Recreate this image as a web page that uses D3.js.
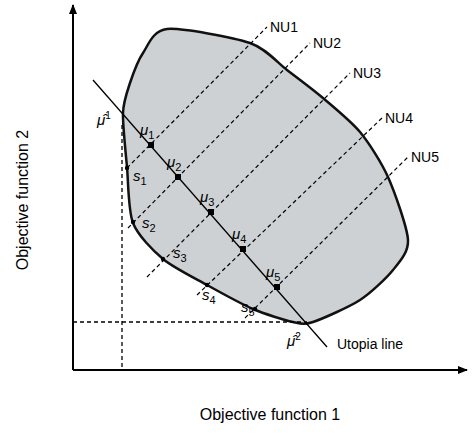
<!DOCTYPE html>
<html><head><meta charset="utf-8">
<script src="https://cdn.jsdelivr.net/npm/d3@7"></script>
<style>body{margin:0;background:#fff}text{font-family:Arial,"Liberation Sans",sans-serif}</style>
</head><body><div class="canvas"></div>
<script>
// objective space values (origin at the axes corner)
const boundary = [[94,341],[177,327],[214,300],[250,272],[287,238],[315,193],[335,130],[320,100],[287,70],[240,48],[220,48],[180,61],[134,85],[90,111],[60,147],[54,203],[50,257],[57,287],[70,317]];
const utopiaLine = [[20,290],[254,23]];
const anchors = [{name:'1', p:[50,257]}, {name:'2', p:[234,48]}];
const muPoints = [[78,225],[105,193],[138,158],[170,121],[204,83]];
const sPoints = [[54,202],[60,148],[90,111],[134,85],[182,61]];
const nuLabels = ['NU1','NU2','NU3','NU4','NU5'];
const nuStart = [[54,202],[55,142],[74,93],[124,75],[172,52]];
const nuEnd = [[194,343],[237,327],[277,297],[309,252],[335,213]];
const sLabelOffset = [[6,-13],[9,-6],[10,1],[-5,-15],[-14,-3]];

const svg = d3.select('.canvas').append('svg').attr('width',474).attr('height',437);
const x = d3.scaleLinear().domain([0,394]).range([73,467]);
const y = d3.scaleLinear().domain([0,365]).range([370,5]);

const defs = svg.append('defs');
defs.append('marker').attr('id','arr').attr('viewBox','0 0 10 10').attr('refX',9).attr('refY',5)
  .attr('markerWidth',10).attr('markerHeight',10).attr('markerUnits','userSpaceOnUse').attr('orient','auto')
  .append('path').attr('d','M0,1 L10,5 L0,9 Z').attr('fill','#000');

// feasible region
svg.append('path').datum(boundary)
  .attr('d', d3.line().x(d=>x(d[0])).y(d=>y(d[1])).curve(d3.curveCardinalClosed.tension(0.2)))
  .attr('fill','#cdd1d3').attr('stroke','#111').attr('stroke-width',2.5);

// axes
svg.append('line').attr('x1',x(0)).attr('y1',y(0)).attr('x2',x(0)).attr('y2',y(365)).attr('stroke','#000').attr('stroke-width',2).attr('marker-end','url(#arr)');
svg.append('line').attr('x1',x(0)).attr('y1',y(0)).attr('x2',x(394)).attr('y2',y(0)).attr('stroke','#000').attr('stroke-width',2).attr('marker-end','url(#arr)');

// dashed projections of anchor points
svg.append('line').attr('x1',x(anchors[0].p[0])-1).attr('y1',y(245)).attr('x2',x(anchors[0].p[0])-1).attr('y2',y(0))
  .attr('stroke','#000').attr('stroke-width',1.3).attr('stroke-dasharray','4,3');
svg.append('line').attr('x1',x(0)).attr('y1',y(anchors[1].p[1])).attr('x2',x(anchors[1].p[0])).attr('y2',y(anchors[1].p[1]))
  .attr('stroke','#000').attr('stroke-width',1.3).attr('stroke-dasharray','4,3');

// normal lines
svg.selectAll('.nu').data(nuStart).enter().append('line')
  .attr('x1',d=>x(d[0])).attr('y1',d=>y(d[1]))
  .attr('x2',(d,i)=>x(nuEnd[i][0])).attr('y2',(d,i)=>y(nuEnd[i][1]))
  .attr('stroke','#000').attr('stroke-width',1.2).attr('stroke-dasharray','4,3');
svg.selectAll('.nul').data(nuLabels).enter().append('text')
  .attr('x',(d,i)=>x(nuEnd[i][0])+3).attr('y',(d,i)=>y(nuEnd[i][1])+5)
  .attr('font-size',14).text(d=>d);

// utopia line
svg.append('line').attr('x1',x(utopiaLine[0][0])).attr('y1',y(utopiaLine[0][1]))
  .attr('x2',x(utopiaLine[1][0])).attr('y2',y(utopiaLine[1][1])).attr('stroke','#000').attr('stroke-width',1.3);
svg.append('text').attr('x',x(utopiaLine[1][0])+10).attr('y',y(utopiaLine[1][1])+2).attr('font-size',14).text('Utopia line');

// points
svg.selectAll('.mu').data(muPoints).enter().append('rect')
  .attr('x',d=>x(d[0])-3).attr('y',d=>y(d[1])-3).attr('width',6).attr('height',6).attr('fill','#000');
svg.selectAll('.sp').data(sPoints).enter().append('circle')
  .attr('cx',d=>x(d[0])).attr('cy',d=>y(d[1])).attr('r',2.2).attr('fill','#000');

const math = 'Cambria,"DejaVu Serif",serif';
const muT = svg.selectAll('.mut').data(muPoints).enter().append('text')
  .attr('x',d=>x(d[0])-11).attr('y',d=>y(d[1])-10).attr('font-size',15).attr('font-family',math).attr('font-style','italic');
muT.append('tspan').text('μ');
muT.append('tspan').attr('dy',4).attr('font-size',11).attr('font-style','normal').text((d,i)=>i+1);

const sT = svg.selectAll('.st').data(sPoints).enter().append('text')
  .attr('x',(d,i)=>x(d[0])+sLabelOffset[i][0]).attr('y',(d,i)=>y(d[1])-sLabelOffset[i][1])
  .attr('font-size',15).attr('font-family',math).attr('font-style','italic');
sT.append('tspan').text('s');
sT.append('tspan').attr('dy',4).attr('font-size',11).attr('font-style','normal').text((d,i)=>i+1);

const aT = svg.selectAll('.at').data(anchors).enter().append('text')
  .attr('x',(d,i)=>i===0 ? x(d.p[0])-26 : x(d.p[0])-20).attr('y',(d,i)=>i===0 ? y(d.p[1])+12 : y(d.p[1])+24)
  .attr('font-size',15).attr('font-family',math).attr('font-style','italic');
aT.append('tspan').text('μ̂');
aT.append('tspan').attr('dy',-6).attr('font-size',10).attr('font-style','normal').text(d=>d.name);

// axis titles
svg.append('text').attr('transform','translate(28,200) rotate(-90)').attr('text-anchor','middle').attr('font-size',16).text('Objective function 2');
svg.append('text').attr('x',270).attr('y',420).attr('text-anchor','middle').attr('font-size',16).text('Objective function 1');
</script></body></html>
